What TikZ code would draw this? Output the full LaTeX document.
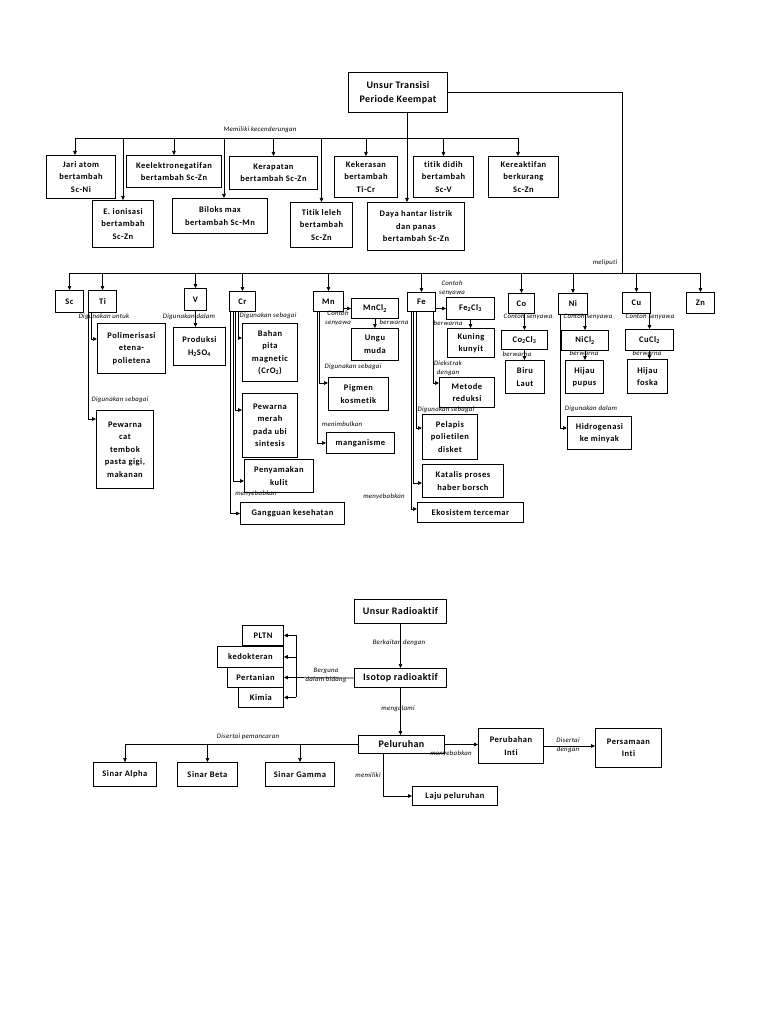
\documentclass[tikz,border=0pt]{standalone}
\usepackage{fontspec}
\setmainfont{Carlito}[Ligatures={NoCommon}]
\usetikzlibrary{arrows.meta}
\newcommand\bxfont{\fontsize{8.5}{12.5}\selectfont\bfseries\addfontfeatures{LetterSpace=6,Ligatures={NoCommon}}}
\newcommand\bigbxfont{\fontsize{10}{14}\selectfont\bfseries\addfontfeatures{LetterSpace=4,Ligatures={NoCommon}}}
\newcommand\lbfont{\fontsize{6.8}{9}\selectfont\itshape\addfontfeatures{LetterSpace=4,Ligatures={NoCommon}}}
\newcommand\mybox[6]{%
  \pgfmathsetmacro{\bw}{#4-#2}\pgfmathsetmacro{\bh}{#5-#3}%
  \node[box,minimum width=\bw pt,minimum height=\bh pt,anchor=north west] (#1) at (#2,#3) {#6};}
\newcommand\mybigbox[6]{%
  \pgfmathsetmacro{\bw}{#4-#2}\pgfmathsetmacro{\bh}{#5-#3}%
  \node[box,font=\bigbxfont,minimum width=\bw pt,minimum height=\bh pt,anchor=north west] (#1) at (#2,#3) {#6};}
\tikzset{
  box/.style={draw, line width=0.9pt, align=center, inner sep=1pt, font=\bxfont},
  lbl/.style={font=\lbfont, inner sep=0pt, align=center},
  arr/.style={-{Triangle[length=4pt,width=3.6pt]}, line width=0.7pt},
  ln/.style={line width=0.7pt}
}
\begin{document}
\begin{tikzpicture}[x=1pt,y=-1pt]
\fill[white] (0,0) rectangle (768,1024);
\useasboundingbox (0,0) rectangle (768,1024);

% ---------- top part ----------
\mybigbox{ut}{348}{72}{447}{112}{Unsur Transisi\\Periode Keempat}
\mybox{ja}{46}{155}{115}{198}{Jari atom\\bertambah\\Sc-Ni}
\mybox{ei}{92}{200}{153}{247}{E. ionisasi\\bertambah\\Sc-Zn}
\mybox{ke}{126}{155}{221}{187}{Keelektronegatifan\\bertambah Sc-Zn}
\mybox{bm}{172}{198}{267}{233}{Biloks max\\bertambah Sc-Mn}
\mybox{kp}{229}{156}{317}{189}{Kerapatan\\bertambah Sc-Zn}
\mybox{tl}{290}{202}{352}{247}{Titik leleh\\bertambah\\Sc-Zn}
\mybox{kk}{334}{156}{397}{197}{Kekerasan\\bertambah\\Ti-Cr}
\mybox{td}{413}{156}{473}{197}{titik didih\\bertambah\\Sc-V}
\mybox{kr}{488}{156}{558}{197}{Kereaktifan\\berkurang\\Sc-Zn}
\mybox{dh}{367}{202}{464}{250}{Daya hantar listrik\\dan panas\\bertambah Sc-Zn}

\coordinate (busA) at (75,138);
\coordinate (busB) at (518,138);
\coordinate (trunk) at (407,138);
\coordinate (bmT) at (224,198);
\draw[ln] (busA) -- (busB);
\draw[arr] (ut.south -| trunk) -- (dh.north -| trunk);
\draw[arr] (busA) -- (busA |- ja.north);
\draw[arr] (ei.north |- busA) -- (ei.north);
\draw[arr] (ke.north |- busA) -- (ke.north);
\draw[arr] (bmT |- busA) -- (bmT);
\draw[arr] (kp.north |- busA) -- (kp.north);
\draw[arr] (tl.north |- busA) -- (tl.north);
\draw[arr] (kk.north |- busA) -- (kk.north);
\draw[arr] (td.north |- busA) -- (td.north);
\draw[arr] (busB) -- (busB |- kr.north);
\node[lbl] (l0) at (260,130) {Memiliki kecenderungan};

% ---------- meliputi ----------
\mybox{sc}{55}{290}{83}{312}{Sc}
\mybox{ti}{88}{290}{116}{312}{Ti}
\mybox{v}{184}{288}{206}{310}{V}
\mybox{cr}{229}{291}{255}{311}{Cr}
\mybox{mn}{313}{291}{343}{311}{Mn}
\mybox{fe}{407}{292}{435}{311}{Fe}
\mybox{co}{508}{293}{534}{313}{Co}
\mybox{ni}{558}{293}{587}{314}{Ni}
\mybox{cu}{622}{292}{650}{313}{Cu}
\mybox{zn}{686}{292}{714}{313}{Zn}

\coordinate (mbL) at (69,273);
\coordinate (mbR) at (700,273);
\coordinate (mel) at (622,273);
\draw[ln] (ut.east) -| (mel);
\draw[ln] (mbL) -- (mbR);
\foreach \n in {sc,ti,v,cr,mn,fe,co,ni,cu,zn}{\draw[arr] (\n.north |- mbL) -- (\n.north);}
\node[lbl] (l1) at (605,263) {meliputi};

% Ti
\mybox{pol}{97}{323}{165}{373}{Polimerisasi\\etena-\\polietena}
\mybox{pwc}{96}{410}{153}{488}{Pewarna\\cat\\tembok\\pasta gigi,\\makanan}
\draw[arr] ([xshift=3pt]ti.south west) |- ([yshift=-16pt]pol.north west);
\draw[arr] ([xshift=0.5pt]ti.south west) |- ([yshift=-9pt]pwc.north west);
\node[lbl] (l2) at (104,317) {Digunakan untuk};
\node[lbl] (l3) at (120,400) {Digunakan sebagai};

% V
\mybox{prd}{173}{327}{225}{365}{Produksi\\H\textsubscript{2}SO\textsubscript{4}}
\draw[arr] (v.south) -- (v.south |- prd.north);
\node[lbl] (l4) at (189,317) {Digunakan dalam};

% Cr
\mybox{bp}{242}{323}{297}{381}{Bahan\\pita\\magnetic\\(CrO\textsubscript{2})}
\mybox{pm}{242}{393}{297}{457}{Pewarna\\merah\\pada ubi\\sintesis}
\mybox{pk}{244}{459}{313}{492}{Penyamakan\\kulit}
\mybox{gk}{240}{502}{344}{524}{Gangguan kesehatan}
\draw[arr] ([xshift=9pt]cr.south west) |- ([yshift=-15pt]bp.north west);
\draw[arr] ([xshift=6.5pt]cr.south west) |- ([yshift=-17pt]pm.north west);
\draw[arr] ([xshift=4pt]cr.south west) |- ([yshift=-22pt]pk.north west);
\draw[arr] ([xshift=1.5pt]cr.south west) |- (gk.west);
\node[lbl] (l5) at (268,316) {Digunakan sebagai};
\node[lbl] (l6) at (256,494) {menyebabkan};

% Mn
\mybox{mncl}{351}{298}{398}{318}{MnCl\textsubscript{2}}
\mybox{um}{351}{328}{398}{360}{Ungu\\muda}
\mybox{pig}{328}{377}{388}{410}{Pigmen\\kosmetik}
\mybox{mg}{326}{432}{394}{453}{manganisme}
\draw[arr] (mn.east |- mncl.west) -- (mncl.west);
\draw[arr] (mncl.south) -- (um.north);
\draw[arr] ([xshift=6.5pt]mn.south west) |- ([yshift=-6pt]pig.north west);
\draw[arr] ([xshift=4pt]mn.south west) |- (mg.west);
\node[lbl] (l7) at (338,318) {Contoh\\senyawa};
\node[lbl] (l8) at (394,322) {berwarna};
\node[lbl] (l9) at (353,367) {Digunakan sebagai};
\node[lbl] (l10) at (342,424) {menimbulkan};

% Fe
\mybox{fecl}{446}{297}{494}{319}{Fe\textsubscript{2}Cl\textsubscript{3}}
\mybox{kn}{447}{328}{494}{357}{Kuning\\kunyit}
\mybox{mr}{439}{377}{494}{407}{Metode\\reduksi}
\mybox{pl}{422}{414}{477}{459}{Pelapis\\polietilen\\disket}
\mybox{kt}{422}{464}{503}{497}{Katalis proses\\haber borsch}
\mybox{ek}{417}{502}{523}{522}{Ekosistem tercemar}
\draw[arr] (fe.east |- fecl.west) -- (fecl.west);
\draw[arr] (fecl.south) -- (kn.north -| fecl.south);
\draw[arr] ([xshift=-3pt]fe.south east) |- ([yshift=-6pt]mr.north west);
\draw[arr] ([xshift=9pt]fe.south west) |- ([yshift=-14pt]pl.north west);
\draw[arr] ([xshift=6.5pt]fe.south west) |- ([yshift=-19pt]kt.north west);
\draw[arr] ([xshift=4pt]fe.south west) |- ([yshift=-7pt]ek.north west);
\node[lbl] (l11) at (452,288) {Contoh\\senyawa};
\node[lbl] (l12) at (448,323) {berwarna};
\node[lbl] (l13) at (448,368) {Diekstrak\\dengan};
\node[lbl] (l14) at (446,410) {Digunakan sebagai};
\node[lbl] (l15) at (384,497) {menyebabkan};

% Co
\mybox{cocl}{501}{330}{547}{349}{Co\textsubscript{2}Cl\textsubscript{3}}
\mybox{bl}{505}{360}{544}{393}{Biru\\Laut}
\draw[arr] (co.south -| cocl.north) -- (cocl.north);
\draw[arr] (cocl.south) -- (bl.north -| cocl.south);
\node[lbl] (l16) at (528,317) {Contoh senyawa};
\node[lbl] (l17) at (517,354) {berwarna};

% Ni
\mybox{nicl}{561}{330}{608}{350}{NiCl\textsubscript{2}}
\mybox{hp}{565}{360}{603}{393}{Hijau\\pupus}
\mybox{hd}{567}{416}{631}{449}{Hidrogenasi\\ke minyak}
\draw[arr] (ni.south -| nicl.north) -- (nicl.north);
\draw[arr] (nicl.south) -- (hp.north -| nicl.south);
\draw[arr] ([xshift=2pt]ni.south west) |- ([yshift=-12pt]hd.north west);
\node[lbl] (l18) at (588,317) {Contoh senyawa};
\node[lbl] (l19) at (584,353) {berwarna};
\node[lbl] (l20) at (591,409) {Digunakan dalam};

% Cu
\mybox{cucl}{625}{329}{673}{350}{CuCl\textsubscript{2}}
\mybox{hf}{627}{359}{667}{393}{Hijau\\foska}
\draw[arr] (cu.south -| cucl.north) -- (cucl.north);
\draw[arr] (cucl.south) -- (hf.north -| cucl.south);
\node[lbl] (l21) at (650,317) {Contoh senyawa};
\node[lbl] (l22) at (647,353) {berwarna};

% ---------- radioaktif ----------
\mybigbox{ur}{354}{599}{446}{623}{Unsur Radioaktif}
\mybigbox{iso}{354}{668}{446}{687}{Isotop radioaktif}
\mybox{pltn}{242}{625}{283}{645}{PLTN}
\mybox{kd}{217}{646}{283}{667}{kedokteran}
\mybox{pt}{227}{667}{283}{687}{Pertanian}
\mybox{km}{238}{687}{283}{707}{Kimia}
\mybigbox{pel}{358}{735}{444}{753}{Peluruhan}
\mybox{pi}{478}{728}{543}{763}{Perubahan\\Inti}
\mybox{ps}{595}{728}{661}{767}{Persamaan\\Inti}
\mybox{sa}{93}{762}{156}{786}{Sinar Alpha}
\mybox{sb}{177}{762}{237}{786}{Sinar Beta}
\mybox{sg}{265}{762}{334}{786}{Sinar Gamma}
\mybox{lp}{412}{786}{497}{805}{Laju peluruhan}

\draw[arr] (ur.south) -- (ur.south |- iso.north);
\node[lbl] (l23) at (399,643) {Berkaitan dengan};
\draw[arr] (iso.west) -- (pt.east);
\coordinate (rb) at (296,0);
\draw[ln] (rb |- pltn.east) -- (rb |- km.east);
\draw[arr] (rb |- pltn.east) -- (pltn.east);
\draw[arr] (rb |- kd.east) -- (kd.east);
\draw[arr] (rb |- km.east) -- (km.east);
\node[lbl] (l24) at (326,675) {Berguna\\dalam bidang};
\draw[arr] (iso.south) -- (iso.south |- pel.north);
\node[lbl] (l25) at (398,709) {mengalami};
\draw[arr] (pel.east) -- (pel.east -| pi.west);
\node[lbl] (l26) at (451,754) {menyebabkan};
\draw[arr] (pi.east) -- (pi.east -| ps.west);
\node[lbl] (l27) at (568,745) {Disertai\\dengan};
\draw[arr] (pel.west) -| (sa.north);
\draw[arr] (sb.north |- pel.west) -- (sb.north);
\draw[arr] (sg.north |- pel.west) -- (sg.north);
\node[lbl] (l28) at (248,737) {Disertai pemancaran};
\draw[arr] ([xshift=-18pt]pel.south) |- (lp.west);
\node[lbl] (l29) at (368,775) {memiliki};
\end{tikzpicture}
\end{document}
